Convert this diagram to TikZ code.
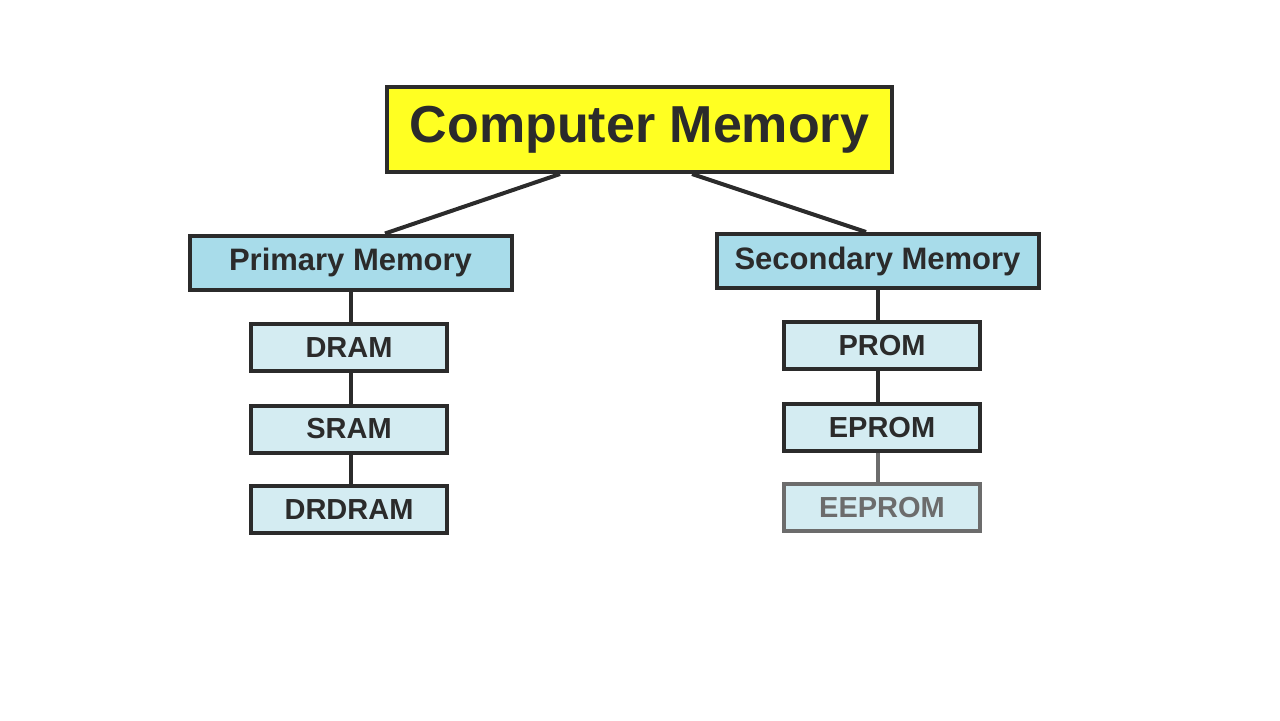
\documentclass[tikz,border=0pt]{standalone}
\usepackage{fontspec}
\setmainfont{Liberation Sans}
\usetikzlibrary{positioning}
\definecolor{topyellow}{HTML}{FFFF22}
\definecolor{midblue}{HTML}{A8DCEA}
\definecolor{lowblue}{HTML}{D4ECF2}
\definecolor{linegray}{HTML}{2B2B2B}
\tikzset{
  box/.style={draw=linegray,line width=2pt,inner sep=0pt,font=\bfseries,text=linegray},
  topbox/.style={box,fill=topyellow,minimum width=252.5pt,minimum height=42.5pt,font=\fontsize{26}{30}\selectfont\bfseries},
  midbox/.style={box,fill=midblue,minimum width=161pt,minimum height=27pt,font=\fontsize{15.5}{18}\selectfont\bfseries},
  lowbox/.style={box,fill=lowblue,minimum width=98pt,minimum height=23.5pt,font=\fontsize{14.5}{17}\selectfont\bfseries},
  link/.style={draw=linegray,line width=2pt}
}
\begin{document}
\begin{tikzpicture}[x=0.5pt,y=-0.5pt]
\useasboundingbox (0,0) rectangle (1280,720);
\node[topbox] (mem) at (639.5,129.5) {Computer Memory};
\node[midbox] (prim) at (350.5,262.5) {Primary Memory};
\node[midbox] (sec) at (877.5,261) {Secondary Memory};
% left column
\node[lowbox] (dram) at (349,347.5) {DRAM};
\node[lowbox] (sram) at (349,429) {SRAM};
\node[lowbox] (drdram) at (349,509.5) {DRDRAM};
% right column
\node[lowbox] (prom) at (882,345.5) {PROM};
\node[lowbox] (eprom) at (882,427.5) {EPROM};
\node[lowbox,draw=gray!85!black,text=gray!85!black] (eeprom) at (882,507.5) {EEPROM};
\draw[link] ([xshift=-39.75pt]mem.south) -- ([xshift=17.25pt]prim.north);
\draw[link] ([xshift=26.25pt]mem.south) -- ([xshift=-5.75pt]sec.north);
\draw[link] (prim.south) -- (prim.south |- dram.north);
\draw[link] (dram.south -| prim.south) -- (sram.north -| prim.south);
\draw[link] (sram.south -| prim.south) -- (drdram.north -| prim.south);
\draw[link] (sec.south) -- (sec.south |- prom.north);
\draw[link] (prom.south -| sec.south) -- (eprom.north -| sec.south);
\draw[link,draw=gray!85!black] (eprom.south -| sec.south) -- (eeprom.north -| sec.south);
\end{tikzpicture}
\end{document}
